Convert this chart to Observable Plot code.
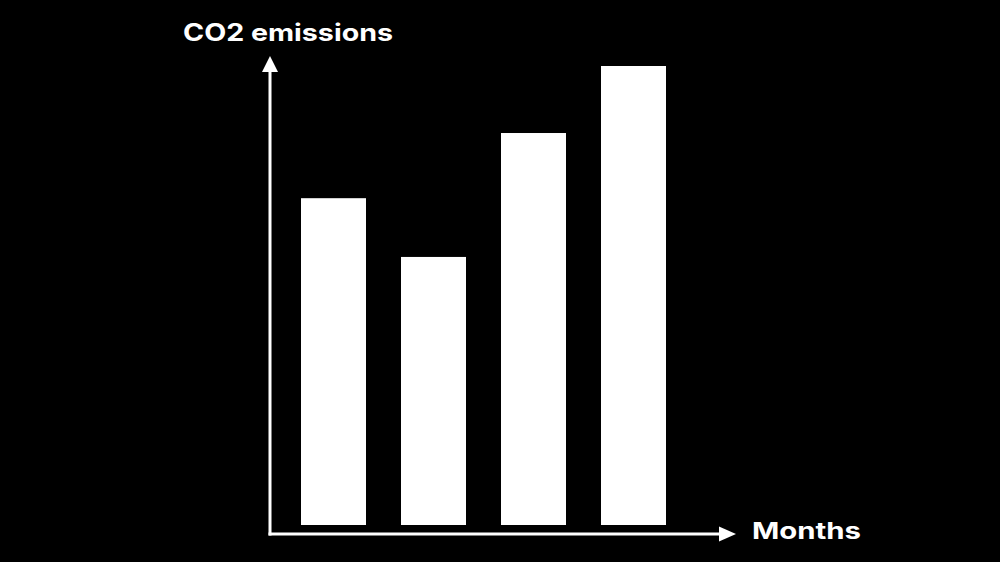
<!DOCTYPE html>
<html>
<head>
<meta charset="utf-8">
<script src="https://cdn.jsdelivr.net/npm/d3@7"></script>
<script src="https://cdn.jsdelivr.net/npm/@observablehq/plot@0.6"></script>
<style>
  html, body { margin: 0; padding: 0; background: #000; }
  #chart { width: 1000px; height: 562px; }
</style>
</head>
<body>
<div id="chart"></div>
<script>
// Data (relative CO2 emission levels per month; no scale shown in the original)
const months = ["Month 1", "Month 2", "Month 3", "Month 4"];
const emissions = [71.2, 58.4, 85.4, 100];
const yTitle = "CO2 emissions";
const xTitle = "Months";

const data = months.map((m, i) => ({month: m, value: emissions[i]}));

const chart = Plot.plot({
  width: 1000,
  height: 562,
  marginTop: 66,
  marginBottom: 37,
  marginLeft: 301,
  marginRight: 334,
  style: {background: "#000", color: "#fff"},
  x: {domain: months, paddingInner: 0.35, paddingOuter: 0, axis: null},
  y: {domain: [0, 100], axis: null},
  marks: [
    Plot.barY(data, {x: "month", y: "value", fill: "#fff"})
  ]
});

document.getElementById("chart").appendChild(chart);

// Axis arrows and titles, positioned from the plot's scales
const svg = d3.select(chart);
const y0 = chart.scale("y").apply(0);        // 525
const xr = chart.scale("x").range;            // [301, 666]
const axisX = xr[0] - 31;                     // y-axis line position
const axisY = y0 + 9;                         // x-axis line position
const yTip = 56, xTip = 736;

const g = svg.append("g").attr("fill", "#fff").attr("stroke", "#fff");
g.append("line")
  .attr("x1", axisX).attr("x2", axisX)
  .attr("y1", axisY + 1.5).attr("y2", yTip + 10)
  .attr("stroke-width", 3);
g.append("path")
  .attr("stroke", "none")
  .attr("d", `M${axisX},${yTip} L${axisX + 8},${yTip + 16} L${axisX - 8},${yTip + 16} Z`);
g.append("line")
  .attr("x1", axisX - 1.5).attr("x2", xTip - 10)
  .attr("y1", axisY).attr("y2", axisY)
  .attr("stroke-width", 3);
g.append("path")
  .attr("stroke", "none")
  .attr("d", `M${xTip},${axisY} L${xTip - 17},${axisY - 7.5} L${xTip - 17},${axisY + 7.5} Z`);

svg.append("text")
  .attr("x", 183).attr("y", 40.5)
  .attr("text-anchor", "start")
  .attr("fill", "#fff")
  .attr("font-family", "Inter, 'Open Sans', sans-serif")
  .attr("font-weight", 700)
  .attr("font-size", 24)
  .attr("textLength", 210)
  .attr("lengthAdjust", "spacingAndGlyphs")
  .text(yTitle);

svg.append("text")
  .attr("x", 752).attr("y", 539)
  .attr("text-anchor", "start")
  .attr("fill", "#fff")
  .attr("font-family", "Inter, 'Open Sans', sans-serif")
  .attr("font-weight", 700)
  .attr("font-size", 23)
  .attr("textLength", 109)
  .attr("lengthAdjust", "spacingAndGlyphs")
  .text(xTitle);
</script>
</body>
</html>
